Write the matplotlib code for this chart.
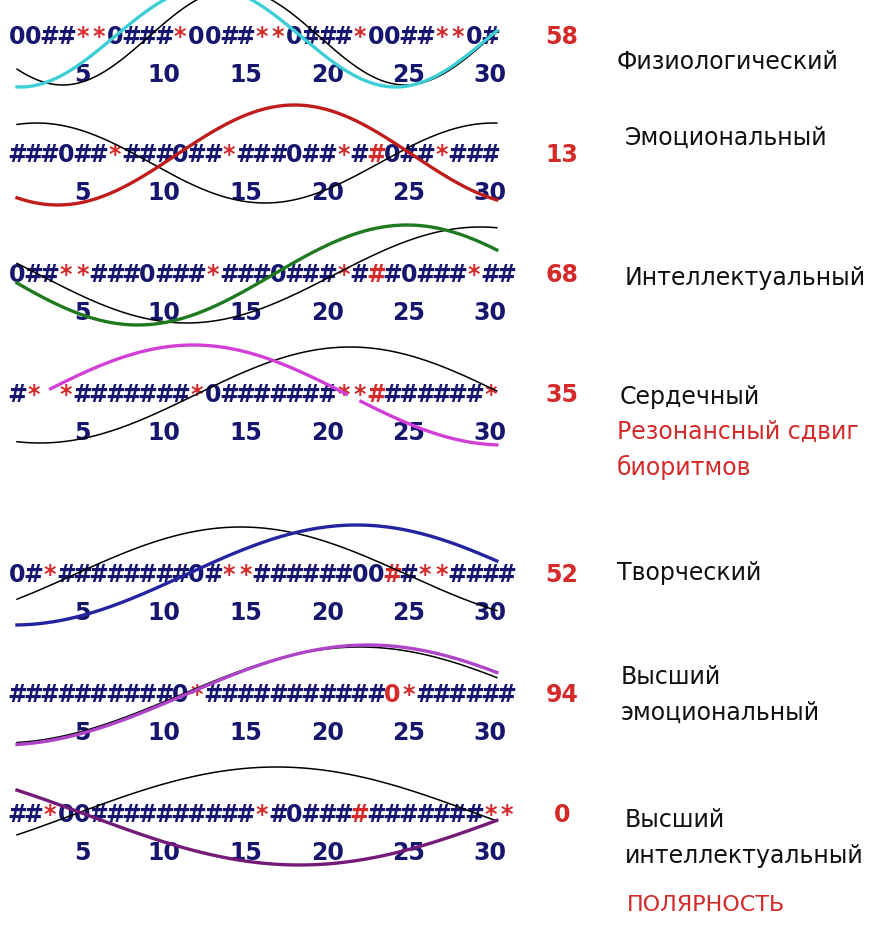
import numpy as np
import matplotlib.pyplot as plt

# row of day symbols for each rhythm ('R' = red #, 'O' = red 0)
rows = [
    "00##**0###*00##**0###*00##**0#",
    "###0##*###0##*###0##*#R0##*###",
    "0##**###0###*###0###*#R#0###*##",
    "#*.*#######*0#######**R######*",
    "0#*########0#**######00R#**####",
    "##########0*###########O*######",
    "##*00##########*#0###R#######**",
]
values = [58, 13, 68, 35, 52, 94, 0]
labels = [["Физиологический"], ["Эмоциональный"], ["Интеллектуальный"], ["Сердечный"],
          ["Творческий"], ["Высший", "эмоциональный"], ["Высший", "интеллектуальный"]]
days_ticks = [5, 10, 15, 20, 25, 30]

# curve parameters: (period in days, day of peak)
colored_period = [23, 29, 33, 38, 42, 45, 52]
colored_peak = [12.7, 18.0, 24.9, 11.8, 21.8, 22.5, 18.3]
colored_sign = [1, 1, 1, 1, 1, 1, -1]
black_period = [21, 28, 36, 38, 41, 44, 50]
black_peak = [14.3, 2.2, 29.4, 21.4, 14.7, 22.0, 16.9]
black_amp = [48, 40, 48, 48, 48, 48, 48]
colors = ["#3ecfd6", "#c01c1c", "#1f7a1f", "#d23fd6", "#2424a0", "#b044c8", "#741a78"]

navy = "#16166e"
red = "#d42a2a"
row_y = [37, 155, 275, 395, 575, 695, 815]
black_off = [0, 8, 0, 0, 0, 0, 0]
label_y = [62, 138, 278, 397, 573, 677, 820]
label_x = [617, 625, 625, 620, 617, 621, 625]


def dx(d):
    return 17 + (np.asarray(d) - 1) * 16.32


fig = plt.figure(figsize=(8.88, 9.44), dpi=100)
ax = fig.add_axes([0, 0, 1, 1])
ax.set_xlim(0, 888)
ax.set_ylim(944, 0)
ax.axis("off")
fig.patch.set_facecolor("white")

d = np.linspace(1, 30.4, 400)
for i, yc in enumerate(row_y):
    # symbols
    for j, ch in enumerate(rows[i]):
        if ch == ".":
            continue
        c = navy
        if ch in "*RO":
            c = red
        t = {"R": "#", "O": "0"}.get(ch, ch)
        ax.text(dx(j + 1), yc, t, color=c, fontsize=17, fontweight="bold",
                ha="center", va="center", family="DejaVu Sans", zorder=2)
    # day numbers
    for t in days_ticks:
        ax.text(dx(t), yc + 38, str(t), color=navy, fontsize=17, fontweight="bold",
                ha="center", va="center", family="DejaVu Sans", zorder=2)
    # curves
    yb = yc + black_off[i] - black_amp[i] * np.cos(2 * np.pi * (d - black_peak[i]) / black_period[i])
    ax.plot(dx(d), yb, color="black", lw=1.1, zorder=3)
    yc2 = yc - colored_sign[i] * 50 * np.cos(2 * np.pi * (d - colored_peak[i]) / colored_period[i])
    if i == 3:
        yc2 = np.where(((d > 21.2) & (d < 22.0)) | (d < 3), np.nan, yc2)
    ax.plot(dx(d), yc2, color=colors[i], lw=2.4, zorder=4)
    # value and label
    ax.text(562, yc, str(values[i]), color=red, fontsize=17, fontweight="bold",
            ha="center", va="center")
    for k, s in enumerate(labels[i]):
        ax.text(label_x[i], label_y[i] + k * 36, s, color="#111111", fontsize=17,
                ha="left", va="center")

ax.text(617, 432, "Резонансный сдвиг", color=red, fontsize=17, ha="left", va="center")
ax.text(617, 467, "биоритмов", color=red, fontsize=17, ha="left", va="center")
ax.text(627, 905, "ПОЛЯРНОСТЬ", color=red, fontsize=16, ha="left", va="center")

plt.savefig("out.png", dpi=100)
